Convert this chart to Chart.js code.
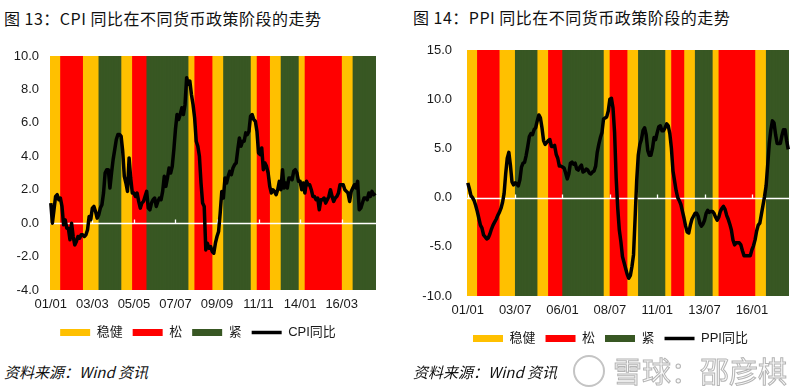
<!DOCTYPE html>
<html>
<head>
<meta charset="utf-8">
<script src="https://cdn.jsdelivr.net/npm/chart.js@4/dist/chart.umd.min.js"></script>
<style>
  html, body { margin: 0; padding: 0; background: #fff; }
  body { width: 800px; height: 391px; position: relative; overflow: hidden; }
  .title { position: absolute; font-family: "Noto Sans CJK SC", sans-serif; font-size: 16px; line-height: 16px; color: #111; letter-spacing: 0.5px; white-space: nowrap; }
  .src { position: absolute; font-family: "Noto Sans CJK SC", sans-serif; font-style: italic; font-size: 15px; line-height: 15px; color: #111; white-space: nowrap; }
  .box { position: absolute; }
  .wm { position: absolute; font-family: "Noto Sans CJK SC", sans-serif; font-size: 29px; line-height: 29px; color: #fafafa; -webkit-text-stroke: 1px #b4b4b4; white-space: nowrap; letter-spacing: 0px; }
  .logo { position: absolute; width: 28px; height: 28px; border: 2px solid #c4c4c4; border-radius: 50%; }
</style>
</head>
<body>
<div class="title" style="left:4px;top:10px;">图 13：CPI 同比在不同货币政策阶段的走势</div>
<div class="title" style="left:413px;top:9px;">图 14：PPI 同比在不同货币政策阶段的走势</div>
<div class="box" style="left:0;top:0;width:400px;height:353px;"><canvas id="c1" width="400" height="353"></canvas></div>
<div class="box" style="left:400px;top:0;width:400px;height:359px;"><canvas id="c2" width="400" height="359"></canvas></div>
<div class="src" style="left:4px;top:364px;">资料来源：Wind 资讯</div>
<div class="src" style="left:413px;top:364px;">资料来源：Wind 资讯</div>
<div class="logo" style="left:573px;top:355px;"></div>
<div class="wm" style="left:613px;top:356px;">雪球：邵彦棋</div>
<script>
// ---- data ----
const startYear = 2001;
const monthCount = 204; // 2001/01 - 2017/12

const cpiYoY = [
  1.2, 0.0, 0.8, 1.6, 1.7, 1.4, 1.5, 1.0, -0.1, 0.2, -0.3, -0.3,
  -1.0, 0.0, -0.8, -1.3, -1.1, -0.8, -0.9, -0.7, -0.7, -0.8, -0.7, -0.4,
  0.4, 0.2, 0.9, 1.0, 0.7, 0.3, 0.5, 0.9, 1.1, 1.8, 3.0, 3.2,
  3.2, 2.1, 3.0, 3.8, 4.4, 5.0, 5.3, 5.3, 5.2, 4.3, 2.8, 2.4,
  1.9, 3.9, 2.7, 1.8, 1.8, 1.6, 1.8, 1.3, 0.9, 1.2, 1.3, 1.6,
  1.9, 0.9, 0.8, 1.2, 1.4, 1.5, 1.0, 1.3, 1.5, 1.4, 1.9, 2.8,
  2.2, 2.7, 3.3, 3.0, 3.4, 4.4, 5.6, 6.5, 6.2, 6.5, 6.9, 6.5,
  7.1, 8.7, 8.3, 8.5, 7.7, 7.1, 6.3, 4.9, 4.6, 4.0, 2.4, 1.2,
  1.0, -1.6, -1.2, -1.5, -1.4, -1.7, -1.8, -1.2, -0.8, -0.5, 0.6, 1.9,
  1.5, 2.7, 2.4, 2.8, 3.1, 2.9, 3.3, 3.5, 3.6, 4.4, 5.1, 4.6,
  4.9, 4.9, 5.4, 5.3, 5.5, 6.4, 6.5, 6.2, 6.1, 5.5, 4.2, 4.1,
  4.5, 3.2, 3.6, 3.4, 3.0, 2.2, 1.8, 2.0, 1.9, 1.7, 2.0, 2.5,
  2.0, 3.2, 2.1, 2.4, 2.1, 2.7, 2.7, 2.6, 3.1, 3.2, 3.0, 2.5,
  2.5, 2.0, 2.4, 1.8, 2.5, 2.3, 2.3, 2.0, 1.6, 1.6, 1.4, 1.5,
  0.8, 1.4, 1.4, 1.5, 1.2, 1.4, 1.6, 2.0, 1.6, 1.3, 1.5, 1.6,
  1.8, 2.3, 2.3, 2.3, 2.0, 1.9, 1.8, 1.3, 1.9, 2.1, 2.3, 2.1,
  2.5, 0.8, 0.9, 1.2, 1.5, 1.5, 1.4, 1.8, 1.6, 1.9, 1.7, 1.8
];

const ppiYoY = [
  1.5, 0.9, 0.2, 0.0, -0.3, -0.8, -1.4, -2.1, -2.8, -3.1, -3.8, -4.0,
  -4.2, -4.1, -3.7, -3.2, -2.8, -2.5, -2.2, -1.8, -1.5, -1.1, -0.5, 0.4,
  2.4, 4.0, 4.6, 3.3, 1.6, 1.3, 1.5, 1.4, 1.2, 1.8, 3.1, 3.5,
  3.6, 4.3, 5.2, 6.2, 6.5, 6.4, 6.9, 7.1, 7.8, 8.4, 8.1, 7.1,
  5.8, 5.4, 5.6, 5.8, 5.9, 5.2, 5.2, 5.3, 4.4, 4.0, 3.2, 3.2,
  3.1, 3.0, 2.5, 1.9, 2.4, 3.5, 3.6, 3.4, 3.5, 2.9, 2.8, 3.1,
  3.3, 2.6, 2.7, 2.9, 2.8, 2.5, 2.4, 2.6, 2.7, 3.2, 4.6, 5.4,
  6.1, 6.6, 8.0, 8.1, 8.2, 8.8, 10.0, 10.1, 9.1, 6.6, 2.0, -1.1,
  -3.3, -4.5, -6.0, -6.6, -7.2, -7.8, -8.2, -7.9, -7.0, -5.8, -2.1, 1.7,
  4.3, 5.4, 5.9, 6.8, 7.1, 6.4, 4.8, 4.3, 4.3, 5.0, 6.1, 5.9,
  6.6, 7.2, 7.3, 6.8, 6.8, 7.1, 7.5, 7.3, 6.5, 5.0, 2.7, 1.7,
  0.7, 0.0, -0.3, -0.7, -1.4, -2.1, -2.9, -3.5, -3.6, -2.8, -2.2, -1.9,
  -1.6, -1.6, -1.9, -2.6, -2.9, -2.7, -2.3, -1.6, -1.3, -1.5, -1.4, -1.4,
  -1.6, -2.0, -2.3, -2.0, -1.4, -1.1, -0.9, -1.2, -1.8, -2.2, -2.7, -3.3,
  -4.3, -4.8, -4.6, -4.6, -4.6, -4.8, -5.4, -5.9, -5.9, -5.9, -5.9, -5.9,
  -5.3, -4.9, -4.3, -3.4, -2.8, -2.6, -1.7, -0.8, 0.1, 1.2, 3.3, 5.5,
  6.9, 7.8, 7.6, 6.4, 5.5, 5.5, 5.5, 6.3, 6.9, 6.9, 5.8, 4.9
];

// monetary policy regimes: start month (yy/mm) and type
const regimeStarts = ['01/01','01/07','02/10','03/07','04/10','05/04','06/01','08/04','08/07','09/07','10/01','11/07','11/10','12/07','13/01','14/01','14/04','16/04','16/10'];
const regimeTypes  = ['稳健','松','稳健','紧','稳健','松','紧','稳健','松','稳健','紧','稳健','松','稳健','紧','稳健','松','稳健','紧'];

const regimeNames  = ['稳健','松','紧'];
const regimeColors = ['#FFC000','#FF0000','#385723'];

const cpiTickLabels = ['01/01','03/03','05/05','07/07','09/09','11/11','14/01','16/03'];
const ppiTickLabels = ['01/01','03/07','06/01','08/07','11/01','13/07','16/01'];

// ---- build tables ----
const monthLabels = [];
for (let i = 0; i < monthCount; i++) {
  const y = startYear + Math.floor(i / 12), m = i % 12 + 1;
  monthLabels.push(String(y % 100).padStart(2, '0') + '/' + String(m).padStart(2, '0'));
}
const monthRegime = [];
{
  let r = 0;
  for (let i = 0; i < monthCount; i++) {
    while (r + 1 < regimeStarts.length && monthLabels[i] >= regimeStarts[r + 1]) r++;
    monthRegime.push(regimeTypes[r]);
  }
}

const FONT = '"Liberation Sans", Arial, "Noto Sans CJK SC", sans-serif';

const zeroLinePlugin = {
  id: 'zeroLine',
  afterLayout(chart) {
    const dx = chart.options.plugins.zeroLine.legendShift || 0;
    if (chart.legend && dx) {
      chart.legend.left += dx;
      chart.legend.right += dx;
    }
  },
  beforeDatasetDraw(chart, args) {
    const ds = chart.data.datasets[args.index];
    if (ds.type !== 'line') return;
    const { ctx, chartArea, scales: { x, y } } = chart;
    const y0 = Math.round(y.getPixelForValue(0)) + 0.5;
    const ticks = chart.options.plugins.zeroLine.ticks;
    ctx.save();
    ctx.strokeStyle = '#ffffff';
    ctx.lineWidth = 1.3;
    ctx.beginPath();
    ctx.moveTo(chartArea.left, y0);
    ctx.lineTo(chartArea.right, y0);
    ticks.forEach(lbl => {
      const idx = monthLabels.indexOf(lbl);
      const px = Math.round(x.getPixelForValue(idx)) + 0.5;
      ctx.moveTo(px, y0);
      ctx.lineTo(px, y0 - 4);
    });
    ctx.stroke();
    ctx.restore();
  }
};

function makeChart(id, series, seriesName, yMin, yMax, yStep, tickLabels, pad, yWidth, yPad, xHeight, legendShift) {
  const bandSets = regimeNames.map((name, k) => ({
    type: 'bar',
    label: name,
    data: monthRegime.map(r => r === name ? [yMin, yMax] : null),
    backgroundColor: regimeColors[k],
    borderColor: regimeColors[k],
    borderWidth: 0,
    barPercentage: 1,
    categoryPercentage: 1,
    grouped: false,
    inflateAmount: 0.6,
    pointStyle: 'rect',
    order: 1
  }));
  const lineSet = {
    type: 'line',
    label: seriesName,
    data: series,
    borderColor: '#000000',
    backgroundColor: '#000000',
    borderWidth: 3.5,
    pointRadius: 0,
    tension: 0,
    fill: false,
    pointStyle: 'line',
    borderJoinStyle: 'round',
    order: 0
  };
  const tickSet = new Set(tickLabels);
  return new Chart(document.getElementById(id), {
    type: 'bar',
    data: { labels: monthLabels, datasets: [...bandSets, lineSet] },
    options: {
      responsive: false,
      animation: false,
      devicePixelRatio: 1,
      layout: { padding: pad },
      plugins: {
        tooltip: { enabled: false },
        zeroLine: { ticks: tickLabels, legendShift: legendShift },
        legend: {
          position: 'bottom',
          labels: {
            usePointStyle: true,
            pointStyleWidth: 30,
            boxHeight: 7,
            padding: 10,
            color: '#1a1a1a',
            font: { family: FONT, size: 13 },
            sort: (a, b) => a.datasetIndex - b.datasetIndex
          }
        }
      },
      scales: {
        x: {
          offset: true,
          grid: { display: false, drawTicks: false },
          border: { display: false },
          ticks: {
            autoSkip: false,
            maxRotation: 0,
            minRotation: 0,
            padding: 7,
            color: '#1a1a1a',
            font: { family: FONT, size: 13 },
            callback: function (v, i) { return tickSet.has(monthLabels[i]) ? monthLabels[i] : ''; }
          },
          afterFit: s => { s.height = xHeight; }
        },
        y: {
          min: yMin, max: yMax,
          grid: { display: false, drawTicks: false },
          border: { display: false },
          ticks: {
            stepSize: yStep,
            padding: yPad,
            color: '#1a1a1a',
            font: { family: FONT, size: 13 },
            callback: v => v.toFixed(1)
          },
          afterFit: s => { s.width = yWidth; }
        }
      }
    },
    plugins: [zeroLinePlugin]
  });
}

makeChart('c1', cpiYoY, 'CPI同比', -4, 10, 2, cpiTickLabels,
  { top: 56, left: 0, right: 24, bottom: 4 }, 50, 11, 26, 10);
makeChart('c2', ppiYoY, 'PPI同比', -10, 15, 5, ppiTickLabels,
  { top: 50, left: 0, right: 11, bottom: 4 }, 67, 15, 26, 16);
</script>
</body>
</html>
